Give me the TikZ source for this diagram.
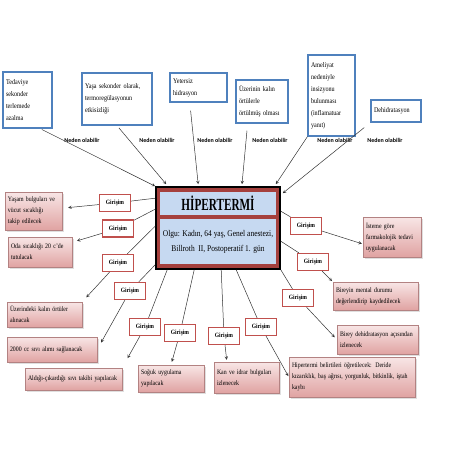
\documentclass[tikz,border=0pt]{standalone}
\usepackage{fontspec}
\setmainfont{Liberation Serif}[FakeStretch=0.85]
\newfontfamily\titlefont{Liberation Serif}[FakeStretch=0.66]
\newfontfamily\labelfont{Carlito}
\usetikzlibrary{calc,shadows}
\definecolor{causeblue}{HTML}{4F81BD}
\definecolor{girred}{HTML}{C0504D}
\definecolor{hipred}{HTML}{A5403D}
\definecolor{hipblue}{HTML}{C6D9F1}
\definecolor{pinktop}{HTML}{F8E6E6}
\definecolor{pinkbot}{HTML}{E0A3A2}

\begin{document}
\begin{tikzpicture}[x=1pt,y=-1pt]
\tikzstyle{cause} = [draw=causeblue, line width=1.2pt, fill=white, align=left, inner sep=3pt, font=\fontsize{7.2}{12}\selectfont]
\tikzstyle{girisim} = [draw=girred, line width=1.3pt, fill=white, minimum width=31, minimum height=17, inner sep=1pt, font=\bfseries\fontsize{6.5}{7}\selectfont]
\tikzstyle{action} = [draw=pinkbot!80!black, line width=0.4pt, top color=pinktop, bottom color=pinkbot, drop shadow={opacity=0.25,shadow xshift=1.5pt,shadow yshift=-1.5pt}, align=left, inner sep=3pt, font=\fontsize{6.9}{11}\selectfont]
\tikzstyle{neden} = [font=\labelfont\bfseries\fontsize{6}{6}\selectfont, inner sep=0pt]
\tikzstyle{link} = [draw=black!80, line width=0.5pt]
\tikzstyle{hipbox} = [draw=black, line width=1.6pt, fill=hipred, minimum width=124, minimum height=82]
\tikzstyle{hipinner} = [fill=hipblue, minimum width=116, inner sep=0pt]

\useasboundingbox (0,0) rectangle (453,453);

% merkez
\node[hipbox] (hip) at (218,228) {};
\node[hipinner, minimum height=23, font=\titlefont\bfseries\fontsize{17}{17}\selectfont] (title) at (218,203.5) {HİPERTERMİ};
\node[hipinner, minimum height=45, align=center, font=\fontsize{8.8}{15}\selectfont] (olgu) at (218,241.5) {Olgu: Kadın, 64 yaş, Genel anestezi,\\ Billroth\ \ II, Postoperatif 1. gün};

% nedenler
\node[cause, text width=43, minimum height=56] (c1) at (27.5,100) {Tedaviye\\ sekonder\\ terlemede\\ azalma};
\node[cause, text width=64, minimum height=52] (c2) at (117,99) {Yaşa sekonder olarak,\\ termoregülasyonun\\ etkisizliği};
\node[cause, text width=51, minimum height=29] (c3) at (198.5,87.5) {Yetersiz\\ hidrasyon};
\node[cause, text width=46, minimum height=43] (c4) at (262,101.5) {Üzerinin kalın\\ örtülerle\\ örtülmüş olması};
\node[cause, text width=41, minimum height=81] (c5) at (331.5,95.5) {Ameliyat\\ nedeniyle\\ insizyonu\\ bulunması\\ (inflamatuar\\ yanıt)};
\node[cause, text width=44, minimum height=22] (c6) at (396,111) {Dehidratasyon};

\node[neden] (n1) at (82,140) {Neden olabilir};
\node[neden] (n2) at (157,140) {Neden olabilir};
\node[neden] (n3) at (215,140) {Neden olabilir};
\node[neden] (n4) at (270,140) {Neden olabilir};
\node[neden] (n5) at (335,140) {Neden olabilir};
\node[neden] (n6) at (385,140) {Neden olabilir};

\draw[link,-stealth,shorten <=2pt] ($(c1.south west)!0.75!(c1.south east)$) -- (hip.north west);
\draw[link,-stealth,shorten <=3pt] (c2.south) -- ($(hip.north west)+(11,-2)$);
\draw[link,-stealth,shorten <=8pt] ($(c3.south west)!0.35!(c3.south east)$) -- ($(hip.north west)+(43,-2)$);
\draw[link,-stealth,shorten <=7pt] ($(c4.south west)!0.23!(c4.south east)$) -- ($(hip.north)+(24,-2)$);
\draw[link,-stealth] (c5.south west) -- ($(hip.north east)+(-5,-2)$);
\draw[link,-stealth,shorten <=8pt] (c6.south west) -- ($(hip.north east)+(2,7)$);

% girisimler
\node[girisim] (g1) at (115,203) {Girişim};
\node[girisim] (g2) at (118,228.5) {Girişim};
\node[girisim] (g3) at (118,263) {Girişim};
\node[girisim] (g4) at (130,291) {Girişim};
\node[girisim] (g5) at (145,327) {Girişim};
\node[girisim] (g6) at (180,333) {Girişim};
\node[girisim] (g7) at (224,336) {Girişim};
\node[girisim] (g8) at (261,327) {Girişim};
\node[girisim] (g9) at (306,226) {Girişim};
\node[girisim] (g10) at (313,262) {Girişim};
\node[girisim] (g11) at (298,298) {Girişim};

% yapilacaklar
\node[action, text width=51, minimum height=38] (a1) at (33.5,211) {Yaşam bulguları ve\\ vücut sıcaklığı\\ takip edilecek};
\node[action, text width=58, minimum height=30] (a2) at (40,252) {Oda sıcaklığı 20 c'de\\ tutulacak};
\node[action, text width=69, minimum height=25] (a3) at (44.5,314.5) {Üzerindeki kalın örtüler\\ alınacak};
\node[action, text width=84, minimum height=25] (a4) at (52,349.5) {2000 cc sıvı alımı sağlanacak};
\node[action, text width=91, minimum height=22] (a5) at (73.5,379) {Aldığı-çıkardığı sıvı takibi yapılacak};
\node[action, text width=60, minimum height=27] (a6) at (171,378.5) {Soğuk uygulama\\ yapılacak};
\node[action, text width=59, minimum height=31] (a7) at (246.5,377.5) {Kan ve idrar bulguları\\ izlenecek};
\node[action, text width=120, minimum height=40] (a8) at (352,377) {Hipertermi belirtileri öğretilecek: Deride\\ kızarıklık, baş ağrısı, yorgunluk, bitkinlik, iştah\\ kaybı};
\node[action, text width=75, minimum height=29] (a9) at (377.5,339.5) {Birey dehidratasyon açısından\\ izlenecek};
\node[action, text width=79, minimum height=28] (a10) at (375.5,296) {Bireyin mental durumu\\ değerlendirip kaydedilecek};
\node[action, text width=52, minimum height=40] (a11) at (392,237) {İsteme göre\\ farmakolojik tedavi\\ uygulanacak};

\draw[link] ($(hip.north west)+(0,12)$) -- (g1);
\draw[link] ($(hip.north west)+(0,23)$) -- (g2);
\draw[link] ($(hip.north west)+(0,40)$) -- (g3);
\draw[link] ($(hip.south west)+(0,-5)$) -- (g4);
\draw[link] ($(hip.south west)+(12,0)$) -- (g5);
\draw[link] ($(hip.south west)+(39,0)$) -- (g6);
\draw[link] ($(hip.south west)+(66,0)$) -- (g7);
\draw[link] ($(hip.south west)+(81,0)$) -- (g8);
\draw[link] ($(hip.north east)+(0,25)$) -- (g9);
\draw[link] ($(hip.north east)+(0,55)$) -- (g10);
\draw[link] (hip.south east) -- (g11);

\draw[link,-stealth,shorten >=6pt] (g1) -- (a1);
\draw[link,-stealth,shorten >=5pt] (g2) -- (a2);
\draw[link,-stealth,shorten >=6pt] (g3) -- (a3.north east);
\draw[link,-stealth,shorten >=8pt] (g4) -- (a4.east);
\draw[link,-stealth,shorten >=11pt] (g5) -- (a5.north east);
\draw[link,-stealth,shorten >=3pt] (g6) -- (a6.north);
\draw[link,-stealth,shorten >=2pt] (g7) -- ($(a7.north west)!0.2!(a7.north east)$);
\draw[link,-stealth,shorten >=1pt] (g8) -- (a8.west);
\draw[link,-stealth,shorten >=3pt] (g11) -- (a9.west);
\draw[link,-stealth,shorten >=1pt] (g9) -- ($(a11.west)+(0,7)$);
\draw[link,-stealth,shorten >=1pt] (g10) -- (a10.north west);
\end{tikzpicture}
\end{document}
